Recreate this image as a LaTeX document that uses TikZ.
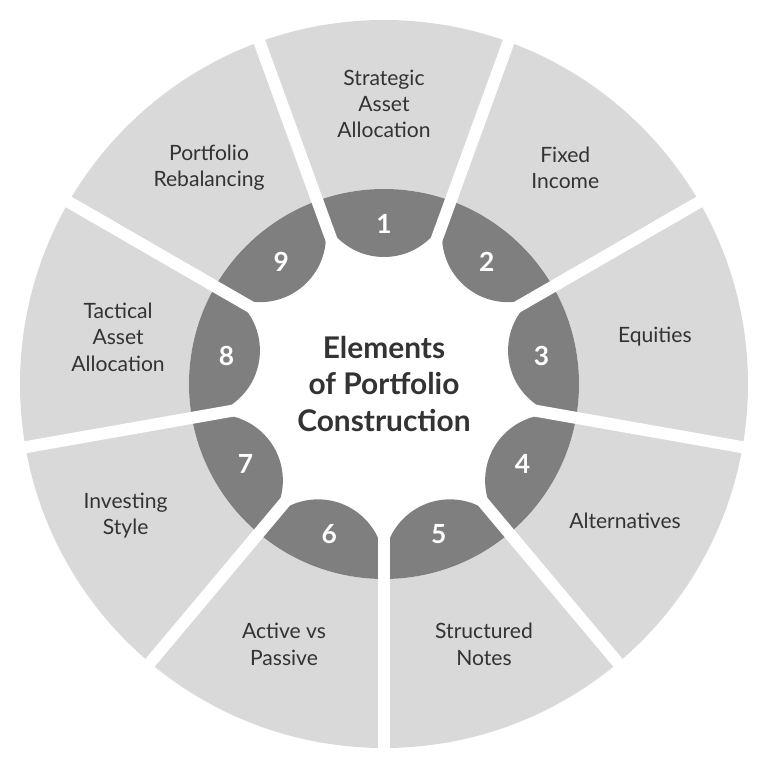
\documentclass[tikz,border=0pt]{standalone}
\usepackage{fontspec}
\setmainfont{Lato}
\definecolor{ringgray}{HTML}{D9D9D9}
\definecolor{tabgray}{HTML}{7F7F7F}
\definecolor{textgray}{HTML}{333333}
\begin{document}
\begin{tikzpicture}[x=0.02cm,y=0.02cm,
  seglabel/.style={align=center,text=textgray,font=\fontsize{12}{15}\selectfont},
  tabnum/.style={text=white,font=\fontsize{15}{18}\selectfont\bfseries},
  gapline/.style={draw=white,line width=0.24cm}]
  \useasboundingbox (-384,-384) rectangle (384,384);
  \fill[ringgray] (0,0) circle (364);
  \fill[white] (0,0) circle (195);
  % dark tabs and numbers
  \foreach \i in {1,...,9} {
    \pgfmathsetmacro{\mid}{90-40*(\i-1)}
    \begin{scope}
      \clip (0,0) circle (195);
      \fill[tabgray] (\mid:193) circle (66);
    \end{scope}
    \node[tabnum] (n\i) at (\mid:160) {\i};
  }
  % gaps between the segments
  \foreach \a in {70,30,...,-250} \draw[gapline] (0,0) -- (\a:380);
  \node[seglabel] (l1) at (90:280)   {Strategic\\Asset\\Allocation};
  \node[seglabel] (l2) at (50:282)   {Fixed\\Income};
  \node[seglabel] (l3) at (10:275)   {Equities};
  \node[seglabel] (l4) at (-29.5:277) {Alternatives};
  \node[seglabel] (l5) at (-69:279)  {Structured\\Notes};
  \node[seglabel] (l6) at (-111:279) {Active vs\\Passive};
  \node[seglabel] (l7) at (207:290)  {Investing\\Style};
  \node[seglabel] (l8) at (170:270)  {Tactical\\Asset\\Allocation};
  \node[seglabel] (l9) at (129:278)  {Portfolio\\Rebalancing};
  \node[align=center,text=textgray,font=\fontsize{17}{21}\selectfont\bfseries] (title) at (0,0)
    {Elements\\of Portfolio\\Construction};
\end{tikzpicture}
\end{document}
